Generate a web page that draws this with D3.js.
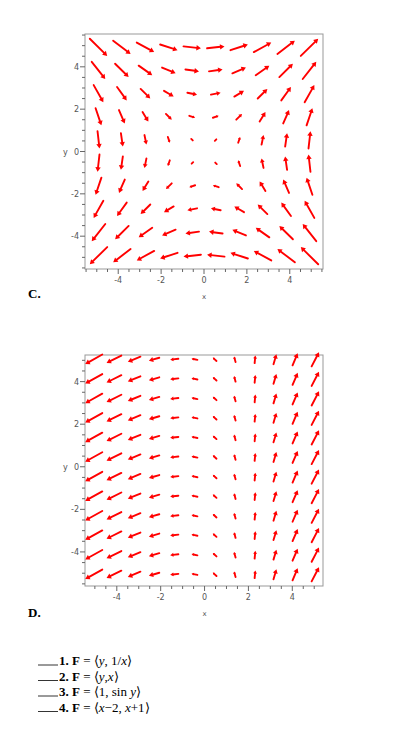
<!DOCTYPE html>
<html><head><meta charset="utf-8">
<script src="https://cdn.jsdelivr.net/npm/d3@7"></script>
<style>body{margin:0;background:#fff}</style>
</head><body><div id="graphic"></div>
<script>
// plot C grid and field components
var gridC = [-4.92, -3.83, -2.73, -1.64, -0.55, 0.55, 1.64, 2.73, 3.83, 4.92];
// uC[row][col], rows from top (y = 4.92) to bottom
var uC = [
  [4.92,4.92,4.92,4.92,4.92,4.92,4.92,4.92,4.92,4.92],
  [3.83,3.83,3.83,3.83,3.83,3.83,3.83,3.83,3.83,3.83],
  [2.73,2.73,2.73,2.73,2.73,2.73,2.73,2.73,2.73,2.73],
  [1.64,1.64,1.64,1.64,1.64,1.64,1.64,1.64,1.64,1.64],
  [0.55,0.55,0.55,0.55,0.55,0.55,0.55,0.55,0.55,0.55],
  [-0.55,-0.55,-0.55,-0.55,-0.55,-0.55,-0.55,-0.55,-0.55,-0.55],
  [-1.64,-1.64,-1.64,-1.64,-1.64,-1.64,-1.64,-1.64,-1.64,-1.64],
  [-2.73,-2.73,-2.73,-2.73,-2.73,-2.73,-2.73,-2.73,-2.73,-2.73],
  [-3.83,-3.83,-3.83,-3.83,-3.83,-3.83,-3.83,-3.83,-3.83,-3.83],
  [-4.92,-4.92,-4.92,-4.92,-4.92,-4.92,-4.92,-4.92,-4.92,-4.92]
];
var vC = [-4.92, -3.83, -2.73, -1.64, -0.55, 0.55, 1.64, 2.73, 3.83, 4.92]; // same for every row

// plot D grid and field components (columns vary only with x)
var gridD = [-5.05, -4.13, -3.21, -2.30, -1.38, -0.46, 0.46, 1.38, 2.30, 3.21, 4.13, 5.05];
var uD = [-7.05, -6.13, -5.21, -4.30, -3.38, -2.46, -1.54, -0.62, 0.30, 1.21, 2.13, 3.05];
var vD = [-4.05, -3.13, -2.21, -1.30, -0.38, 0.54, 1.46, 2.38, 3.30, 4.21, 5.13, 6.05];

var tickVals = [-4, -2, 0, 2, 4];
var formulas = [
  ["1. F", " = \u27E8", "y", ", 1/", "x", "\u27E9"],
  ["2. F", " = \u27E8", "y", ",", "x", "\u27E9"],
  ["3. F", " = \u27E8", "", "1, sin ", "y", "\u27E9"],
  ["4. F", " = \u27E8", "x", "\u22122, ", "x", "+1\u27E9"]
];

var svg = d3.select("#graphic").append("svg")
  .attr("width", 409).attr("height", 752);

function panel(box, xd, yd, label, labelY, arrows, scl) {
  var x = d3.scaleLinear().domain(xd).range([box.l, box.r]);
  var y = d3.scaleLinear().domain(yd).range([box.b, box.t]);
  var g = svg.append("g");
  g.append("rect").attr("x", box.l).attr("y", box.t)
    .attr("width", box.r - box.l).attr("height", box.b - box.t)
    .attr("fill", "none").attr("stroke", "#999").attr("stroke-width", 1);
  var minor = d3.range(Math.ceil(xd[0] * 2) / 2, xd[1], 0.5);
  g.selectAll(".mx").data(minor).enter().append("line")
    .attr("x1", d => x(d)).attr("x2", d => x(d))
    .attr("y1", box.b).attr("y2", d => box.b + (d % 2 == 0 ? 5 : 3))
    .attr("stroke", "#666");
  var minorY = d3.range(Math.ceil(yd[0] * 2) / 2, yd[1], 0.5);
  g.selectAll(".my").data(minorY).enter().append("line")
    .attr("y1", d => y(d)).attr("y2", d => y(d))
    .attr("x1", box.l).attr("x2", d => box.l - (d % 2 == 0 ? 5 : 3))
    .attr("stroke", "#666");
  g.selectAll(".tx").data(tickVals).enter().append("text")
    .attr("x", d => x(d)).attr("y", box.b + 14).attr("text-anchor", "middle")
    .attr("font-family", "DejaVu Sans").attr("font-size", 8).attr("fill", "#555")
    .text(d => d);
  g.selectAll(".ty").data(tickVals).enter().append("text")
    .attr("x", box.l - 6).attr("y", d => y(d) + 3).attr("text-anchor", "end")
    .attr("font-family", "DejaVu Sans").attr("font-size", 8).attr("fill", "#555")
    .text(d => d);
  g.append("text").attr("x", box.l - 22).attr("y", y(0) + 3)
    .attr("font-family", "DejaVu Sans").attr("font-size", 8).attr("fill", "#555").text("y");
  g.append("text").attr("x", x(0)).attr("y", box.b + 30).attr("text-anchor", "middle")
    .attr("font-family", "DejaVu Sans").attr("font-size", 7).attr("fill", "#555").text("x");
  svg.append("text").attr("x", 28).attr("y", labelY)
    .attr("font-family", "Liberation Serif").attr("font-weight", "bold")
    .attr("font-size", 13).text(label);

  var a = g.selectAll(".arrow").data(arrows).enter().append("g");
  a.each(function (d) {
    var dx = d.u * scl, dy = d.v * scl;
    var x0 = x(d.x - dx / 2), y0 = y(d.y - dy / 2);
    var x1 = x(d.x + dx / 2), y1 = y(d.y + dy / 2);
    var len = Math.hypot(x1 - x0, y1 - y0);
    if (len < 0.5) return;
    var ux = (x1 - x0) / len, uy = (y1 - y0) / len;
    var h = Math.min(4.5, len * 0.4), w = Math.min(2.7, h * 0.6);
    var bx = x1 - ux * h, by = y1 - uy * h;
    d3.select(this).append("line")
      .attr("x1", x0).attr("y1", y0).attr("x2", bx + ux * 0.5).attr("y2", by + uy * 0.5)
      .attr("stroke", "#f00").attr("stroke-width", 1.9).attr("stroke-linecap", "round");
    d3.select(this).append("path")
      .attr("d", "M" + x1 + "," + y1 + "L" + (bx - uy * w) + "," + (by + ux * w) +
        "L" + (bx + uy * w) + "," + (by - ux * w) + "Z")
      .attr("fill", "#f00");
  });
}

var arrowsC = [];
gridC.slice().reverse().forEach(function (yy, r) {
  gridC.forEach(function (xx, c) {
    arrowsC.push({x: xx, y: yy, u: uC[r][c], v: vC[c]});
  });
});
panel({l: 85, r: 323, t: 34, b: 269}, [-5.55, 5.55], [-5.55, 5.55], "C.", 298, arrowsC, 0.165);

var arrowsD = [];
gridD.forEach(function (yy) {
  gridD.forEach(function (xx, c) {
    arrowsD.push({x: xx, y: yy, u: uD[c], v: vD[c]});
  });
});
panel({l: 85, r: 323, t: 355, b: 586}, [-5.45, 5.4], [-5.6, 5.25], "D.", 617, arrowsD, 0.11);

svg.selectAll(".blank").data(formulas).enter().append("line")
  .attr("x1", 38).attr("x2", 58)
  .attr("y1", (d, i) => 665 + i * 15.5).attr("y2", (d, i) => 665 + i * 15.5)
  .attr("stroke", "#000").attr("stroke-width", 0.8);
var ft = svg.selectAll(".f").data(formulas).enter().append("text")
  .attr("x", 59).attr("y", (d, i) => 665 + i * 15.5)
  .attr("font-family", "Liberation Serif").attr("font-size", 13);
ft.append("tspan").attr("font-weight", "bold").text(d => d[0]);
ft.append("tspan").text(d => d[1]);
ft.append("tspan").attr("font-style", "italic").text(d => d[2]);
ft.append("tspan").text(d => d[3]);
ft.append("tspan").attr("font-style", "italic").text(d => d[4]);
ft.append("tspan").text(d => d[5]);
</script></body></html>
